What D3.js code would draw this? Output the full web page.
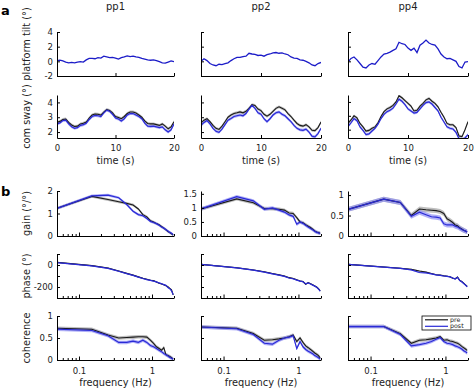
<!DOCTYPE html>
<html>
<head>
<meta charset="utf-8">
<script src="https://cdn.jsdelivr.net/npm/d3@7"></script>
<style>
  body { margin: 0; background: #fff; }
  text { font-family: "DejaVu Sans", sans-serif; }
</style>
</head>
<body>
<div id="fig"></div>
<script>
// participants shown in the three columns
var participants = ["pp1", "pp2", "pp4"];

// time base for the 20 s trial (samples every 0.5 s)
var timeS = [0,0.5,1,1.5,2,2.5,3,3.5,4,4.5,5,5.5,6,6.5,7,7.5,8,8.5,9,9.5,10,
             10.5,11,11.5,12,12.5,13,13.5,14,14.5,15,15.5,16,16.5,17,17.5,18,18.5,19,19.5,20];

// platform tilt (deg)
var tiltPp1 = [0.1,0.15,0.05,-0.1,-0.2,-0.15,-0.2,-0.1,-0.05,-0.1,0.2,0.4,0.4,0.35,0.5,0.45,0.7,0.6,0.5,0.55,0.45,
               0.3,0.5,0.6,0.75,0.65,0.7,0.6,0.55,0.4,0.3,0.2,0.15,0.2,0.1,-0.05,-0.2,-0.25,-0.1,0.05,-0.05];
var tiltPp2 = [0,0.35,0.1,-0.3,-0.5,-0.6,-0.4,-0.45,-0.3,-0.2,0.1,0.35,0.55,0.55,0.65,0.7,1.1,1.0,0.95,0.8,0.85,
               0.7,0.9,1.0,1.15,1.2,1.1,1.15,1.0,0.9,0.6,0.45,0.4,0.2,0.15,0,-0.2,-0.5,-0.6,-0.3,-0.15];
var tiltPp4 = [-0.1,0.4,0.6,0.2,-0.3,-0.8,-0.9,-0.5,-0.3,-0.4,0.1,0.6,1.0,1.1,1.25,1.5,1.7,2.6,2.4,2.3,1.8,
               1.5,1.8,1.2,2.2,2.5,2.9,2.5,2.3,2.2,1.7,1.0,0.6,0.35,0.4,0.2,0,-0.7,-0.9,-0.1,-0.05];

// com sway (deg), pre and post
var swayPrePp1 = [2.65,2.72,2.85,2.88,2.65,2.48,2.38,2.4,2.55,2.6,2.68,2.95,3.15,3.22,3.2,3.15,3.35,3.52,3.45,3.3,3.05,
                  2.98,2.9,3.05,3.25,3.35,3.35,3.28,3.15,3.0,2.75,2.58,2.55,2.55,2.5,2.45,2.55,2.4,2.22,2.35,2.7];
var swayPostPp1 = [2.55,2.62,2.78,2.8,2.55,2.35,2.25,2.3,2.45,2.5,2.6,2.85,3.05,3.12,3.1,3.05,3.3,3.48,3.4,3.2,2.95,
                   2.88,2.75,2.9,3.15,3.25,3.25,3.15,3.05,2.9,2.6,2.4,2.38,2.4,2.35,2.3,2.35,2.15,2.0,2.15,2.55];
var swayPrePp2 = [2.62,2.8,2.9,2.7,2.45,2.25,2.18,2.4,2.7,3.0,3.15,3.25,3.3,3.36,3.3,3.4,3.6,3.85,3.8,3.55,3.45,
                  3.2,3.07,3.2,3.4,3.6,3.7,3.6,3.5,3.25,3.05,2.8,2.58,2.45,2.4,2.5,2.35,2.12,2.1,2.3,2.68];
var swayPostPp2 = [2.45,2.65,2.78,2.55,2.25,2.05,1.98,2.2,2.5,2.8,2.92,3.05,3.1,3.15,3.1,3.25,3.55,3.8,3.6,3.3,3.2,
                   2.9,2.7,2.9,3.15,3.3,3.36,3.2,3.1,2.9,2.7,2.45,2.25,2.15,2.12,2.2,2.0,1.72,1.68,1.9,2.25];
var swayPrePp4 = [2.46,2.7,3.0,2.85,2.45,2.2,1.9,1.95,2.1,2.2,2.5,2.95,3.3,3.5,3.6,3.75,4.0,4.45,4.3,4.1,3.9,
                  3.7,3.35,3.4,3.7,3.9,4.15,4.25,4.05,3.9,3.65,3.25,2.9,2.45,2.35,2.35,2.15,1.55,1.5,2.0,2.58];
var swayPostPp4 = [2.22,2.5,2.8,2.65,2.2,1.95,1.65,1.7,1.9,2.1,2.4,2.8,3.1,3.3,3.4,3.55,3.85,4.2,4.05,3.8,3.5,
                   3.35,3.2,3.25,3.5,3.75,3.95,4.0,3.85,3.6,3.35,2.9,2.55,2.2,2.1,2.05,1.8,1.35,1.3,1.4,1.65];

// stimulus frequencies (Hz)
var freqHz = [0.05,0.15,0.25,0.35,0.45,0.55,0.65,0.75,0.85,0.95,1.05,1.15,1.25,1.35,1.45,1.55,1.65,1.75,1.85,1.95];

// gain (deg/deg)
var gainPrePp1 = [1.23,1.76,1.62,1.52,1.45,1.38,1.2,0.95,0.85,0.68,0.62,0.55,0.5,0.42,0.35,0.28,0.2,0.15,0.1,0.04];
var gainPostPp1 = [1.23,1.78,1.82,1.7,1.4,1.1,0.95,0.9,0.78,0.65,0.6,0.55,0.48,0.4,0.35,0.28,0.22,0.16,0.12,0.06];
var gainPrePp2 = [0.96,1.32,1.18,0.98,0.97,0.95,0.92,0.82,0.8,0.65,0.5,0.47,0.4,0.35,0.3,0.24,0.18,0.14,0.12,0.1];
var gainPostPp2 = [0.96,1.4,1.25,0.95,1.0,0.92,0.85,0.75,0.7,0.42,0.5,0.45,0.38,0.32,0.27,0.22,0.17,0.13,0.11,0.09];
var gainPrePp4 = [0.65,0.9,0.82,0.5,0.66,0.64,0.63,0.62,0.6,0.55,0.42,0.38,0.33,0.27,0.25,0.2,0.17,0.14,0.12,0.1];
var gainPostPp4 = [0.65,0.9,0.82,0.48,0.58,0.52,0.47,0.46,0.44,0.3,0.27,0.27,0.27,0.24,0.22,0.19,0.16,0.14,0.12,0.1];

// phase (deg)
var phasePrePp1 = [24,-6,-28,-55,-76,-92,-108,-121,-130,-138,-142,-155,-165,-172,-180,-188,-198,-212,-225,-272];
var phasePostPp1 = [22,-8,-30,-57,-78,-94,-110,-123,-133,-140,-146,-153,-163,-170,-178,-185,-205,-215,-235,-270];
var phasePrePp2 = [6,-25,-45,-62,-78,-90,-100,-115,-123,-135,-145,-150,-175,-160,-170,-180,-190,-200,-215,-235];
var phasePostPp2 = [5,-26,-46,-64,-80,-92,-103,-118,-125,-137,-146,-152,-172,-163,-172,-183,-192,-203,-218,-238];
var phasePrePp4 = [6,-18,-30,-40,-55,-65,-78,-88,-92,-98,-102,-106,-120,-125,-110,-140,-150,-165,-180,-195];
var phasePostPp4 = [5,-19,-31,-45,-68,-72,-80,-90,-95,-100,-104,-108,-118,-128,-112,-142,-152,-168,-182,-198];

// coherence
var cohPrePp1 = [0.72,0.7,0.57,0.5,0.51,0.52,0.53,0.53,0.52,0.45,0.38,0.3,0.26,0.22,0.28,0.12,0.1,0.08,0.05,0.02];
var cohPostPp1 = [0.7,0.67,0.55,0.4,0.4,0.43,0.4,0.45,0.4,0.33,0.3,0.26,0.22,0.19,0.15,0.12,0.09,0.06,0.04,0.02];
var cohPrePp2 = [0.75,0.72,0.6,0.45,0.46,0.48,0.5,0.53,0.57,0.42,0.5,0.4,0.32,0.28,0.24,0.2,0.16,0.13,0.1,0.05];
var cohPostPp2 = [0.75,0.71,0.58,0.38,0.36,0.45,0.5,0.52,0.55,0.26,0.42,0.3,0.24,0.2,0.17,0.14,0.1,0.08,0.05,0.02];
var cohPrePp4 = [0.76,0.76,0.6,0.38,0.45,0.46,0.48,0.5,0.53,0.45,0.46,0.43,0.42,0.4,0.38,0.35,0.31,0.28,0.25,0.22];
var cohPostPp4 = [0.76,0.76,0.58,0.32,0.35,0.38,0.42,0.47,0.51,0.42,0.38,0.37,0.35,0.32,0.3,0.28,0.25,0.21,0.19,0.16];

// half-width of the shaded error bands
var swayBand = 0.1, gainBand = 0.06, phaseBand = 6, cohBand = 0.04;

var W = 474, H = 389;
var blue = "#2a2ad6", blueBand = "#8f8ff5", black = "#1a1a1a", greyBand = "#a9a9a9";

var svg = d3.select("#fig").append("svg")
    .attr("width", W).attr("height", H)
    .style("display", "block");

var cols = [[57, 174], [201, 321], [348, 468]];
var rows = {
    tilt: [32, 76], sway: [95, 138],
    gain: [191, 236], phase: [254, 298], coh: [316, 360]
};

var clipId = 0;

function panel(ci, rowKey) {
    var g = svg.append("g");
    clipId++;
    svg.append("clipPath").attr("id", "c" + clipId).append("rect")
        .attr("x", cols[ci][0]).attr("y", rows[rowKey][0])
        .attr("width", cols[ci][1] - cols[ci][0]).attr("height", rows[rowKey][1] - rows[rowKey][0]);
    var plot = g.append("g").attr("clip-path", "url(#c" + clipId + ")");
    return { g: g, plot: plot };
}

function drawPair(plot, xs, x, y, pre, post, band) {
    var ptsPre = pre.map(function(v, i) { return [xs[i], v]; });
    var ptsPost = post.map(function(v, i) { return [xs[i], v]; });
    var area = d3.area()
        .x(function(d) { return x(d[0]); })
        .y0(function(d) { return y(d[1] - band); })
        .y1(function(d) { return y(d[1] + band); });
    var line = d3.line()
        .x(function(d) { return x(d[0]); })
        .y(function(d) { return y(d[1]); });
    plot.append("path").attr("d", area(ptsPre)).attr("fill", greyBand).attr("opacity", 0.75);
    plot.append("path").attr("d", area(ptsPost)).attr("fill", blueBand).attr("opacity", 0.7);
    plot.append("path").attr("d", line(ptsPre)).attr("fill", "none")
        .attr("stroke", black).attr("stroke-width", 1.1);
    plot.append("path").attr("d", line(ptsPost)).attr("fill", "none")
        .attr("stroke", blue).attr("stroke-width", 1.2);
}

function styleAxis(sel) {
    sel.selectAll("path").attr("stroke", "#000").attr("stroke-width", 1);
    sel.selectAll("line").attr("stroke", "#000");
    sel.selectAll("text").attr("fill", "#222").style("font-size", "8.5px")
        .style("font-family", "DejaVu Sans, sans-serif");
}

function yAxis(g, ci, y, ticks, labels) {
    var ax = d3.axisLeft(y).tickValues(ticks).tickSize(-3).tickSizeOuter(0).tickPadding(4)
        .tickFormat(function(d) { return labels && labels.indexOf(d) >= 0 ? String(d) : ""; });
    var s = g.append("g").attr("transform", "translate(" + cols[ci][0] + ",0)").call(ax);
    styleAxis(s);
}

function timeAxis(g, ci, rowKey, x, showLabels) {
    var ax = d3.axisBottom(x).tickValues([0, 10, 20]).tickSize(-3).tickSizeOuter(0).tickPadding(7)
        .tickFormat(showLabels ? d3.format("d") : function() { return ""; });
    var s = g.append("g").attr("transform", "translate(0," + rows[rowKey][1] + ")").call(ax);
    styleAxis(s);
}

var minorFreq = [0.05,0.06,0.07,0.08,0.09,0.2,0.3,0.4,0.5,0.6,0.7,0.8,0.9,2];

function freqAxis(g, rowKey, x, showLabels) {
    var major = d3.axisBottom(x).tickValues([0.1, 1]).tickSize(-3.5).tickSizeOuter(0).tickPadding(8)
        .tickFormat(showLabels ? function(d) { return String(d); } : function() { return ""; });
    var s = g.append("g").attr("transform", "translate(0," + rows[rowKey][1] + ")").call(major);
    styleAxis(s);
    var minor = d3.axisBottom(x).tickValues(minorFreq).tickSize(-2).tickSizeOuter(0)
        .tickFormat(function() { return ""; });
    var m = g.append("g").attr("transform", "translate(0," + rows[rowKey][1] + ")").call(minor);
    styleAxis(m);
    m.select("path").remove();
}

var tiltData = [tiltPp1, tiltPp2, tiltPp4];
var swayPre = [swayPrePp1, swayPrePp2, swayPrePp4];
var swayPost = [swayPostPp1, swayPostPp2, swayPostPp4];
var gainPre = [gainPrePp1, gainPrePp2, gainPrePp4];
var gainPost = [gainPostPp1, gainPostPp2, gainPostPp4];
var phasePre = [phasePrePp1, phasePrePp2, phasePrePp4];
var phasePost = [phasePostPp1, phasePostPp2, phasePostPp4];
var cohPre = [cohPrePp1, cohPrePp2, cohPrePp4];
var cohPost = [cohPostPp1, cohPostPp2, cohPostPp4];

var swayDomains = [[1.6, 4.5], [1.6, 4.5], [1.4, 4.5]];
var gainDomains = [[0, 2], [0, 1.6], [0, 1.1]];
var gainTicks = [[0, 1, 2], [0, 0.5, 1, 1.5], [0, 0.5, 1]];

participants.forEach(function(name, ci) {
    var xT = d3.scaleLinear().domain([0, 20]).range(cols[ci]);
    var xF = d3.scaleLog().domain([0.05, 2]).range(cols[ci]);
    var cx = (cols[ci][0] + cols[ci][1]) / 2;

    // title
    svg.append("text").attr("x", cx).attr("y", 9.5)
        .attr("text-anchor", "middle").style("font-size", "10px").attr("fill", "#222").text(name);

    // platform tilt
    var yTilt = d3.scaleLinear().domain([-2, 4]).range([rows.tilt[1], rows.tilt[0]]);
    var p = panel(ci, "tilt");
    var tiltLine = d3.line().x(function(d, i) { return xT(timeS[i]); }).y(function(d) { return yTilt(d); });
    p.plot.append("path").attr("d", tiltLine(tiltData[ci])).attr("fill", "none")
        .attr("stroke", "#1c1cc8").attr("stroke-width", 1.3);
    yAxis(p.g, ci, yTilt, [-2, 0, 2, 4], ci === 0 ? [-2, 0, 2, 4] : null);
    timeAxis(p.g, ci, "tilt", xT, false);

    // com sway
    var ySway = d3.scaleLinear().domain(swayDomains[ci]).range([rows.sway[1], rows.sway[0]]);
    p = panel(ci, "sway");
    drawPair(p.plot, timeS, xT, ySway, swayPre[ci], swayPost[ci], swayBand);
    yAxis(p.g, ci, ySway, [2, 3, 4], ci === 0 ? [2, 3, 4] : null);
    timeAxis(p.g, ci, "sway", xT, true);
    svg.append("text").attr("x", cx).attr("y", 163.5)
        .attr("text-anchor", "middle").style("font-size", "9.8px").attr("fill", "#222").text("time (s)");

    // gain
    var yGain = d3.scaleLinear().domain(gainDomains[ci]).range([rows.gain[1], rows.gain[0]]);
    p = panel(ci, "gain");
    drawPair(p.plot, freqHz, xF, yGain, gainPre[ci], gainPost[ci], gainBand);
    yAxis(p.g, ci, yGain, gainTicks[ci], gainTicks[ci]);
    freqAxis(p.g, "gain", xF, false);

    // phase
    var yPhase = d3.scaleLinear().domain([-300, 100]).range([rows.phase[1], rows.phase[0]]);
    p = panel(ci, "phase");
    drawPair(p.plot, freqHz, xF, yPhase, phasePre[ci], phasePost[ci], phaseBand);
    yAxis(p.g, ci, yPhase, [-300, -200, -100, 0, 100], ci === 0 ? [0, -200] : null);
    freqAxis(p.g, "phase", xF, false);

    // coherence
    var yCoh = d3.scaleLinear().domain([0, 1]).range([rows.coh[1], rows.coh[0]]);
    p = panel(ci, "coh");
    drawPair(p.plot, freqHz, xF, yCoh, cohPre[ci], cohPost[ci], cohBand);
    yAxis(p.g, ci, yCoh, [0, 0.5, 1], ci === 0 ? [0, 0.5, 1] : null);
    freqAxis(p.g, "coh", xF, true);
    svg.append("text").attr("x", cx).attr("y", 386)
        .attr("text-anchor", "middle").style("font-size", "9.8px").attr("fill", "#222").text("frequency (Hz)");
});

// y axis labels
var yLabels = [
    ["platform tilt (°)", (rows.tilt[0] + rows.tilt[1]) / 2 - 10],
    ["com sway (°)", (rows.sway[0] + rows.sway[1]) / 2],
    ["gain (°/°)", (rows.gain[0] + rows.gain[1]) / 2],
    ["phase (°)", (rows.phase[0] + rows.phase[1]) / 2],
    ["coherence", (rows.coh[0] + rows.coh[1]) / 2]
];
yLabels.forEach(function(l) {
    svg.append("text")
        .attr("transform", "translate(30," + l[1] + ") rotate(-90)")
        .attr("text-anchor", "middle").style("font-size", "9.8px").attr("fill", "#222")
        .text(l[0]);
});

// panel letters
svg.append("text").attr("x", 1).attr("y", 15).style("font-size", "13px").style("font-weight", "bold").text("a");
svg.append("text").attr("x", 1).attr("y", 196).style("font-size", "13px").style("font-weight", "bold").text("b");

// legend
var lg = svg.append("g").attr("transform", "translate(422,316)");
lg.append("rect").attr("width", 49).attr("height", 14).attr("fill", "#fff")
    .attr("stroke", "#000").attr("stroke-width", 0.8);
[["pre", black], ["post", blue]].forEach(function(e, i) {
    lg.append("line").attr("x1", 3).attr("x2", 26).attr("y1", 3.8 + i * 6.5).attr("y2", 3.8 + i * 6.5)
        .attr("stroke", e[1]).attr("stroke-width", 1.2);
    lg.append("text").attr("x", 28).attr("y", 5.6 + i * 6.5).style("font-size", "6.3px").attr("fill", "#222").text(e[0]);
});
</script>
</body>
</html>
